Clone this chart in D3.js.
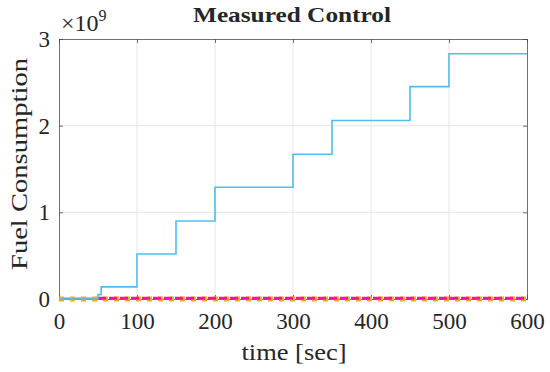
<!DOCTYPE html>
<html><head><meta charset="utf-8">
<script src="https://cdn.jsdelivr.net/npm/d3@7"></script>
<style>body{margin:0;background:#fff}svg{display:block}text{font-family:"Liberation Serif","DejaVu Serif",serif;fill:#262626}</style>
</head><body>
<svg id="c" width="550" height="372"></svg>
<script>
// data (fuel consumption in units of 1e9)
const blueTime   = [0, 50, 54, 100, 150, 200, 300, 350, 450, 500, 600];
const blueValue  = [0, 0.05, 0.14, 0.52, 0.90, 1.29, 1.67, 2.06, 2.45, 2.83, 2.83];
const purpleTime = [0, 50];
const purpleValue= [0.005, 0.005];
const pinkTime   = [50, 600];
const pinkValue  = [0.01, 0.01];
const orangeTime = [0, 600];
const orangeValue= [0.0, 0.0];
const xTicks = [0, 100, 200, 300, 400, 500, 600];
const yTicks = [0, 1, 2, 3];

const svg = d3.select("#c");
const m = {l:59, r:527, t:39, b:299};
const x = d3.scaleLinear().domain([0,600]).range([m.l, m.r]);
const y = d3.scaleLinear().domain([0,3]).range([m.b, m.t]);

// grid
svg.append("g").selectAll("line").data(xTicks.slice(1,-1)).join("line")
  .attr("x1",d=>x(d)).attr("x2",d=>x(d)).attr("y1",m.t).attr("y2",m.b)
  .attr("stroke","#e6e6e6").attr("stroke-width",1);
svg.append("g").selectAll("line").data(yTicks.slice(1,-1)).join("line")
  .attr("y1",d=>y(d)).attr("y2",d=>y(d)).attr("x1",m.l).attr("x2",m.r)
  .attr("stroke","#e6e6e6").attr("stroke-width",1);

// axes
const fmt = d3.format("d");
const xa = svg.append("g").attr("transform",`translate(0,${m.b})`)
  .call(d3.axisBottom(x).tickValues(xTicks).tickFormat(fmt).tickSize(-4).tickPadding(14));
const ya = svg.append("g").attr("transform",`translate(${m.l},0)`)
  .call(d3.axisLeft(y).tickValues(yTicks).tickFormat(fmt).tickSize(-4).tickPadding(9));
const xt = svg.append("g").attr("transform",`translate(0,${m.t})`)
  .call(d3.axisTop(x).tickValues(xTicks).tickSize(-4).tickFormat(""));
const yr = svg.append("g").attr("transform",`translate(${m.r},0)`)
  .call(d3.axisRight(y).tickValues(yTicks).tickSize(-4).tickFormat(""));
[xa,ya,xt,yr].forEach(g=>{
  g.selectAll("path,line").attr("stroke","#4d4d4d").attr("stroke-width",0.8);
  g.selectAll("text").attr("font-size",23).attr("fill","#262626")
   .attr("font-family","'Liberation Serif',serif");
});

// lines
const line = d3.line().x(d=>x(d[0])).y(d=>y(d[1]));
const stepLine = d3.line().x(d=>x(d[0])).y(d=>y(d[1])).curve(d3.curveStepAfter);
const z = (a,b)=>a.map((t,i)=>[t,b[i]]);

svg.append("path").datum(z(purpleTime,purpleValue)).attr("d",line)
  .attr("fill","none").attr("stroke","#8b7fe8").attr("stroke-width",2);
svg.append("path").datum(z(orangeTime,orangeValue)).attr("d",line)
  .attr("fill","none").attr("stroke","#f7a823").attr("stroke-width",5)
  .attr("stroke-dasharray","5,6");
svg.append("path").datum(z(pinkTime,pinkValue)).attr("d",line)
  .attr("fill","none").attr("stroke","#ff1493").attr("stroke-width",3)
  .attr("stroke-dasharray","8,3");
svg.append("path").datum(z(blueTime,blueValue)).attr("d",stepLine)
  .attr("fill","none").attr("stroke","#4dbeee").attr("stroke-width",1.6);

// texts
svg.append("text").attr("x",292).attr("y",22).attr("text-anchor","middle")
  .attr("font-size",22).attr("font-weight","bold").attr("fill","#000")
  .attr("textLength",198).attr("lengthAdjust","spacingAndGlyphs").text("Measured Control");
const ex = svg.append("text").attr("x",61).attr("y",31).attr("font-size",24);
ex.append("tspan").text("×10");
ex.append("tspan").attr("dy",-10).attr("font-size",16).text("9");
svg.append("text").attr("x",294).attr("y",360).attr("text-anchor","middle")
  .attr("font-size",24).attr("textLength",105).attr("lengthAdjust","spacingAndGlyphs").text("time [sec]");
svg.append("text").attr("transform","translate(27,164) rotate(-90)").attr("text-anchor","middle")
  .attr("font-size",24).attr("textLength",212).attr("lengthAdjust","spacingAndGlyphs").text("Fuel Consumption");
</script>
</body></html>
